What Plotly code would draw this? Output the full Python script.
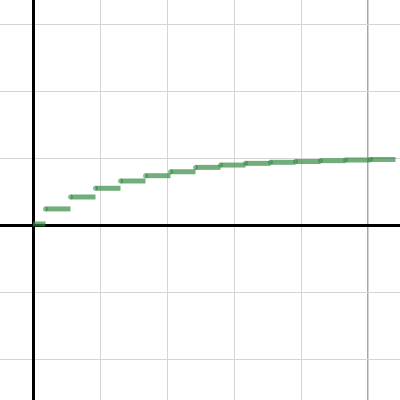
import plotly.graph_objects as go

step_width = 25/67
step_values = [0.015, 0.24, 0.418, 0.548, 0.657, 0.736, 0.795, 0.86, 0.895, 0.92, 0.936, 0.948, 0.96, 0.97, 0.978]

xs, ys, dx, dy = [], [], [], []
for k, v in enumerate(step_values):
    x0 = max(0, (k - 0.5) * step_width)
    x1 = (k + 0.5) * step_width
    xs += [x0, x1, None]
    ys += [v, v, None]
    if k > 0:
        dx.append(x0); dy.append(v)

fig = go.Figure()
fig.add_trace(go.Scatter(x=xs, y=ys, mode="lines",
                         line=dict(color="rgba(45,135,60,0.68)", width=5), hoverinfo="skip"))
fig.add_trace(go.Scatter(x=dx, y=dy, mode="markers",
                         marker=dict(color="rgba(45,135,60,0.55)", size=5), hoverinfo="skip"))
fig.add_shape(type="line", x0=5, x1=5, y0=0, y1=1, yref="paper",
              line=dict(color="#888888", width=1.5), layer="below")
fig.update_layout(width=400, height=400, margin=dict(l=0, r=0, t=0, b=0),
                  plot_bgcolor="white", paper_bgcolor="white", showlegend=False)
fig.update_xaxes(range=[-33/67, 367/67], dtick=1, showgrid=True, gridcolor="#d4d4d4",
                 gridwidth=1, zeroline=True, zerolinecolor="black", zerolinewidth=2.5,
                 showticklabels=False)
fig.update_yaxes(range=[-175/67, 225/67], dtick=1, showgrid=True, gridcolor="#d4d4d4",
                 gridwidth=1, zeroline=True, zerolinecolor="black", zerolinewidth=2.5,
                 showticklabels=False)
fig.write_html("out.html", config={"displayModeBar": False},
               post_script="document.body.style.margin='0';")
